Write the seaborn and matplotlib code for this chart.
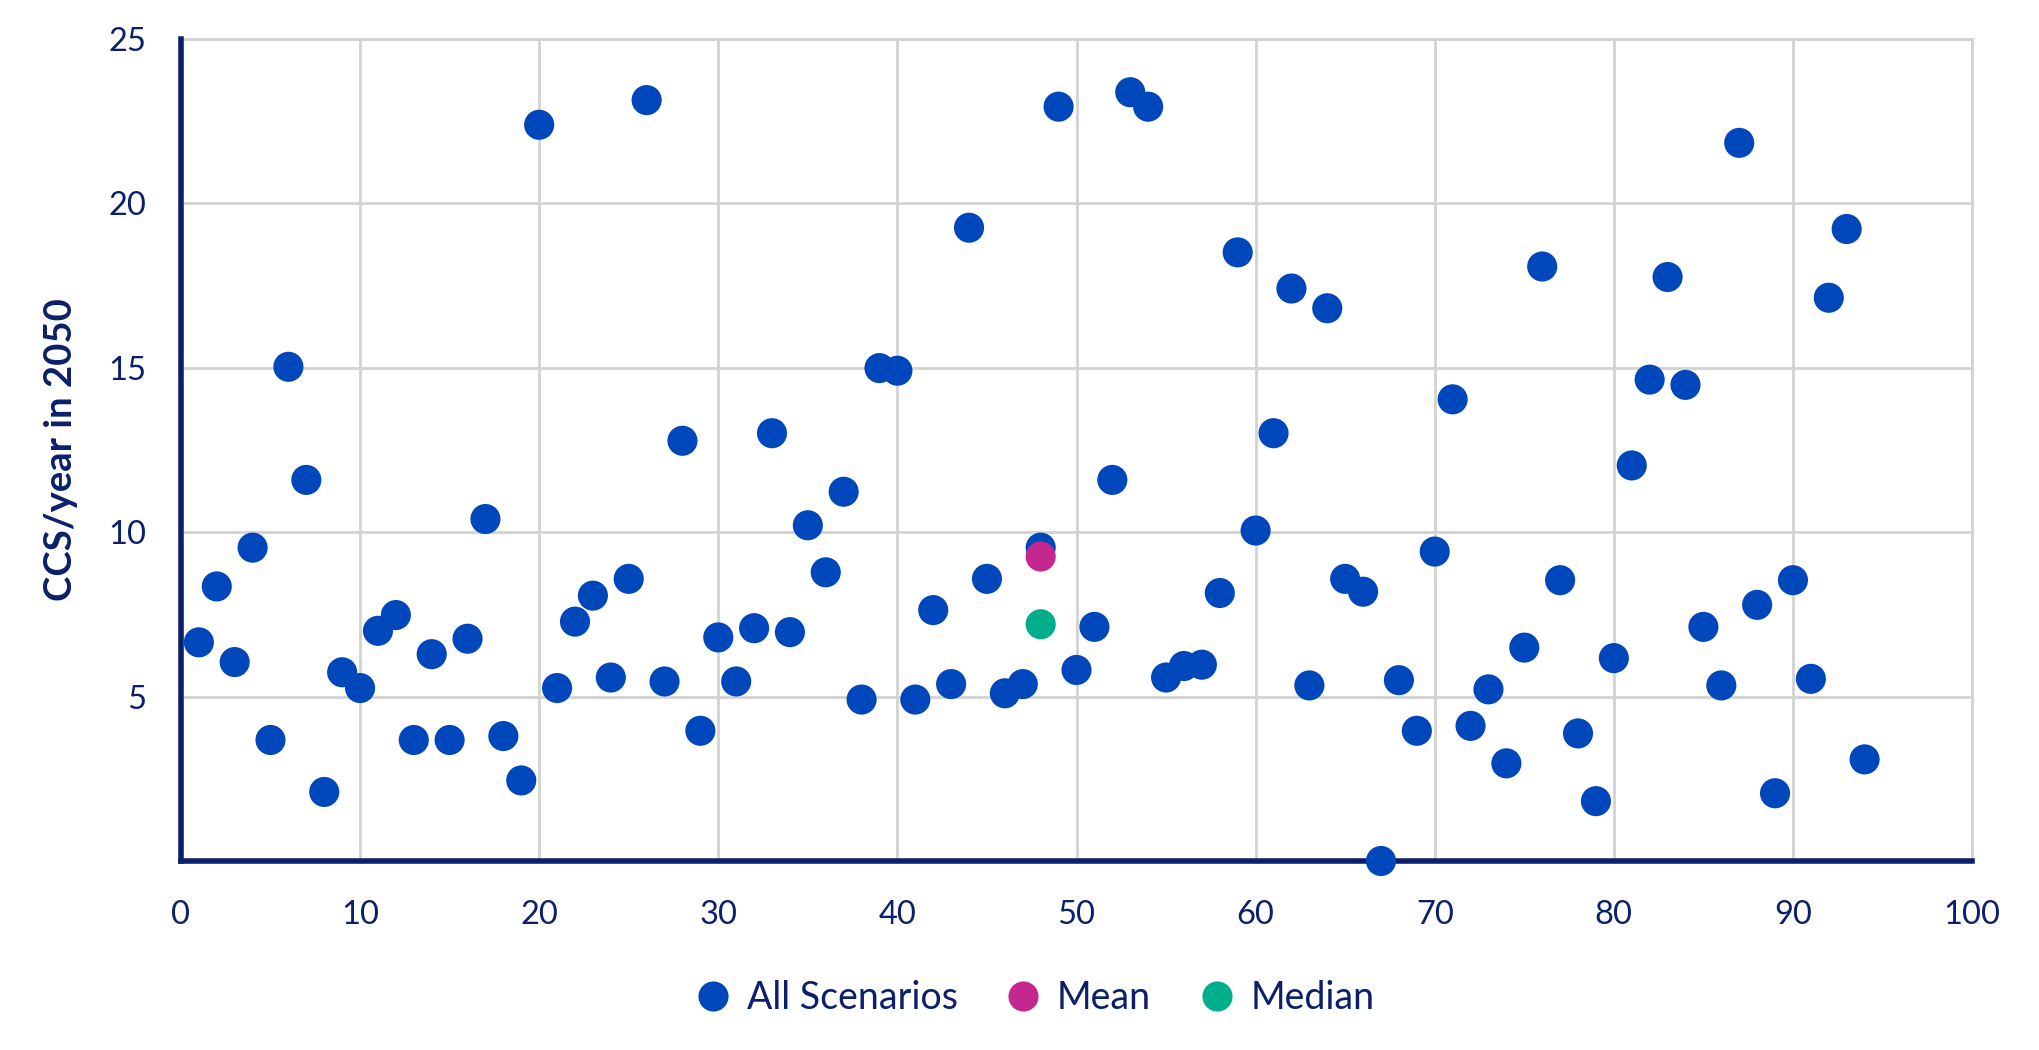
import numpy as np
import pandas as pd
import matplotlib
matplotlib.use("Agg")
import matplotlib.pyplot as plt
import seaborn as sns

# scenario index and CCS per year in 2050
scenario = [1, 2, 3, 4, 5, 6, 7, 8, 9, 10,
            11, 12, 13, 14, 15, 16, 17, 18, 19, 20,
            21, 22, 23, 24, 25, 26, 27, 28, 29, 30,
            31, 32, 33, 34, 35, 36, 37, 38, 39, 40,
            41, 42, 43, 44, 45, 46, 47, 48, 49, 50,
            51, 52, 53, 54, 55, 56, 57, 58, 59, 60,
            61, 62, 63, 64, 65, 66, 67, 68, 69, 70,
            71, 72, 73, 74, 75, 76, 77, 78, 79, 80,
            81, 82, 83, 84, 85, 86, 87, 88, 89, 90,
            91, 92, 93, 94]
ccs = [6.65, 8.35, 6.05, 9.53, 3.68, 15.03, 11.59, 2.10, 5.74, 5.26,
       7.00, 7.48, 3.68, 6.29, 3.68, 6.76, 10.40, 3.80, 2.45, 22.39,
       5.26, 7.28, 8.07, 5.58, 8.58, 23.14, 5.46, 12.78, 3.96, 6.80,
       5.46, 7.08, 13.01, 6.96, 10.21, 8.78, 11.23, 4.91, 14.99, 14.91,
       4.91, 7.63, 5.38, 19.26, 8.58, 5.10, 5.38, 9.53, 22.94, 5.81,
       7.12, 11.59, 23.38, 22.94, 5.58, 5.93, 5.97, 8.15, 18.51, 10.05,
       13.01, 17.41, 5.34, 16.81, 8.58, 8.19, 0.0, 5.50, 3.96, 9.41,
       14.04, 4.11, 5.22, 2.97, 6.49, 18.08, 8.54, 3.88, 1.82, 6.17,
       12.03, 14.64, 17.76, 14.48, 7.12, 5.34, 21.84, 7.79, 2.06, 8.54,
       5.54, 17.13, 19.22, 3.09]

mean_x, mean_y = 48, 9.26
median_x, median_y = 48, 7.20

series_names = ["All Scenarios", "Mean", "Median"]
series_colors = ["#0047BB", "#C4288E", "#00AE8B"]

navy = "#0B1F6B"

df = pd.DataFrame({
    "scenario": scenario + [mean_x, median_x],
    "ccs": ccs + [mean_y, median_y],
    "series": ["All Scenarios"] * len(ccs) + ["Mean", "Median"],
})

sns.set_style("white")
plt.rcParams["font.family"] = ["Lato", "DejaVu Sans"]

fig, ax = plt.subplots(figsize=(20.4, 10.5), dpi=100)
fig.subplots_adjust(left=0.0887, right=0.9667, top=0.9629, bottom=0.18)

sns.scatterplot(data=df, x="scenario", y="ccs", hue="series",
                hue_order=series_names, palette=series_colors,
                s=470, linewidth=0, ax=ax, clip_on=False, zorder=5)

ax.set_xlim(0, 100)
ax.set_ylim(0, 25)
ax.set_xticks(range(0, 101, 10))
ax.set_yticks([5, 10, 15, 20, 25])
ax.grid(True, color="#D3D3D3", linewidth=2)
ax.set_axisbelow(True)

for side in ["top", "right"]:
    ax.spines[side].set_color("#D3D3D3")
    ax.spines[side].set_linewidth(2)
for side in ["left", "bottom"]:
    ax.spines[side].set_color(navy)
    ax.spines[side].set_linewidth(4)
    ax.spines[side].set_zorder(4)

ax.tick_params(axis="both", length=0, labelsize=23.5, labelcolor=navy)
ax.tick_params(axis="y", pad=25)
ax.tick_params(axis="x", pad=28)

ax.set_xlabel("")
ax.set_ylabel("CCS/year in 2050", fontsize=27.5, fontweight="bold",
              color=navy, labelpad=22)

sns.move_legend(ax, "center", bbox_to_anchor=(0.507, 0.0495),
                bbox_transform=fig.transFigure, ncol=3, frameon=False,
                title=None, fontsize=27, handlelength=1.0,
                handletextpad=0.4, columnspacing=1.25)
for t in ax.get_legend().get_texts():
    t.set_color(navy)

plt.savefig("out.png", dpi=100)
